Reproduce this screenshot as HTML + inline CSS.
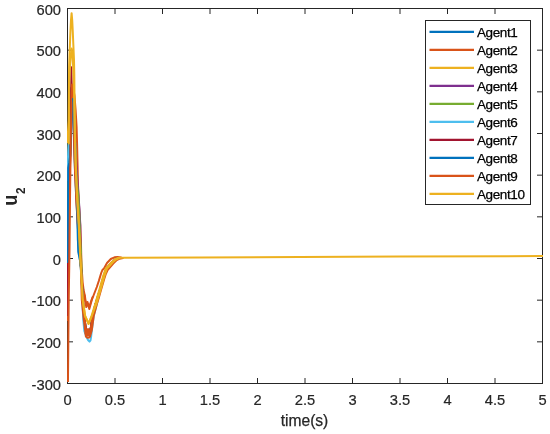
<!DOCTYPE html>
<html><head><meta charset="utf-8"><title>u2 plot</title>
<style>html,body{margin:0;padding:0;background:#fff;}svg{display:block;}</style>
</head><body>
<svg width="550" height="434" viewBox="0 0 550 434"><rect x="67.5" y="8.5" width="475" height="375" fill="#fff" stroke="none"/>
<path d="M67.50,383 v-5 M67.50,9 v5 M115.00,383 v-5 M115.00,9 v5 M162.50,383 v-5 M162.50,9 v5 M210.00,383 v-5 M210.00,9 v5 M257.50,383 v-5 M257.50,9 v5 M305.00,383 v-5 M305.00,9 v5 M352.50,383 v-5 M352.50,9 v5 M400.00,383 v-5 M400.00,9 v5 M447.50,383 v-5 M447.50,9 v5 M495.00,383 v-5 M495.00,9 v5 M542.50,383 v-5 M542.50,9 v5 M68,8.50 h5 M542,8.50 h-5 M68,50.17 h5 M542,50.17 h-5 M68,91.83 h5 M542,91.83 h-5 M68,133.50 h5 M542,133.50 h-5 M68,175.17 h5 M542,175.17 h-5 M68,216.83 h5 M542,216.83 h-5 M68,258.50 h5 M542,258.50 h-5 M68,300.17 h5 M542,300.17 h-5 M68,341.83 h5 M542,341.83 h-5 M68,383.50 h5 M542,383.50 h-5" stroke="#262626" stroke-width="1" fill="none"/>
<rect x="67.5" y="8.5" width="475" height="375" fill="none" stroke="#262626" stroke-width="1"/>
<clipPath id="c"><rect x="67" y="8" width="476" height="374"/></clipPath><g clip-path="url(#c)">
<polyline points="67.50,320.00 68.50,250.00 69.80,170.00 70.50,150.00 70.90,140.00 71.50,128.00 71.90,118.00 72.20,105.00 72.60,92.00 73.20,88.00 74.50,96.00 75.60,110.00 76.60,127.00 77.10,145.00 77.50,162.00 78.00,185.00 79.00,205.00 80.20,225.00 80.90,240.00 81.30,258.00 81.80,270.00 82.60,282.00 83.60,290.00 84.90,296.00 86.30,307.00 87.50,302.00 89.30,309.00 91.80,300.00 93.90,294.50 96.80,287.00 98.80,281.00 101.20,273.00 102.40,270.00 104.00,268.50 107.00,263.00 110.80,259.00 114.50,257.30 117.50,256.90 121.00,257.60" fill="none" stroke="#D95319" stroke-width="2" stroke-linejoin="round" stroke-linecap="round"/>
<polyline points="84.40,295.00 85.80,305.00 87.50,303.80 89.20,307.00 91.00,301.50 92.60,297.00" fill="none" stroke="#D95319" stroke-width="2" stroke-linejoin="round" stroke-linecap="round"/>
<polyline points="67.50,230.00 68.50,160.00 70.00,110.00 71.50,88.00 73.50,110.00 75.50,150.00 77.50,182.00 79.40,208.00 80.30,225.00 80.40,240.00 80.30,255.00 81.20,270.00 82.00,285.00 82.80,300.00 84.30,316.00 85.50,327.00 86.50,333.50 88.00,334.00 89.50,333.50 90.80,328.00 92.60,316.00 95.30,305.00 97.60,297.50 100.70,287.50 103.70,276.50 104.70,273.50 106.40,268.50 108.90,266.00 112.00,262.50 115.40,259.50 118.70,258.00" fill="none" stroke="#7E2F8E" stroke-width="2" stroke-linejoin="round" stroke-linecap="round"/>
<polyline points="67.50,220.00 68.50,150.00 70.00,105.00 71.20,88.00 73.80,110.00 74.80,135.00 75.60,160.00 76.60,180.00 78.20,195.00 79.40,215.00 79.90,235.00 80.80,250.00 81.30,262.00 81.60,270.00 82.00,285.00 82.80,300.00 84.30,316.00 85.50,327.00 86.50,333.50 88.00,334.00 89.50,333.50 90.80,328.00 92.60,316.00 95.30,305.00 97.60,297.50 100.70,287.50 103.70,276.50 104.70,273.50 106.40,268.50 108.90,266.00 112.00,262.50 115.40,259.50 118.70,258.00" fill="none" stroke="#77AC30" stroke-width="2" stroke-linejoin="round" stroke-linecap="round"/>
<polyline points="80.30,262.00 81.20,270.00 82.00,285.00 82.80,300.00 84.30,316.00 85.50,327.00 86.50,333.50 88.00,334.00 89.50,333.50 90.80,328.00 92.60,316.00 95.30,305.00 97.60,297.50 100.70,287.50 103.70,276.50 104.70,273.50 106.40,268.50 108.90,266.00 112.00,262.50 115.40,259.50 118.70,258.00" fill="none" stroke="#0072BD" stroke-width="2" stroke-linejoin="round" stroke-linecap="round"/>
<polyline points="67.50,180.00 67.80,162.00 68.30,150.00 68.80,142.00 69.80,125.00 71.20,108.00 72.20,104.00 73.00,112.00 73.60,130.00 74.50,160.00 75.60,185.00 76.70,205.00 77.60,225.00 77.90,240.00 78.60,250.00 80.30,262.00 81.20,275.00 82.00,290.00 82.50,305.00 83.30,320.00 84.30,331.00 86.50,337.00 88.20,340.30 89.50,341.60 90.50,340.30 91.20,336.00 91.80,331.00 93.70,316.00 96.60,305.00 100.60,287.50 103.60,276.50 104.60,273.50 106.30,268.50 108.80,266.00 111.90,262.50 115.30,259.50 118.60,258.00" fill="none" stroke="#4DBEEE" stroke-width="2" stroke-linejoin="round" stroke-linecap="round"/>
<polyline points="67.50,315.00 67.80,290.00 67.95,262.00 68.40,230.00 69.20,200.00 70.20,160.00 70.60,140.00 70.90,115.00 71.10,90.00 71.25,75.00 71.30,67.30 71.45,75.00 71.70,84.00 72.40,92.00 73.20,110.00 74.20,140.00 75.20,170.00 76.50,200.00 77.90,228.00 79.00,245.00 80.30,255.00 81.20,270.00 82.00,285.00 82.80,300.00 84.30,316.00 85.50,327.00 86.50,333.50 88.00,334.00 89.50,333.50 90.80,328.00 92.60,316.00 95.30,305.00 97.60,297.50 100.70,287.50 103.70,276.50 104.70,273.50 106.40,268.50 108.90,266.00 112.00,262.50 115.40,259.50 118.70,258.00" fill="none" stroke="#A2142F" stroke-width="2" stroke-linejoin="round" stroke-linecap="round"/>
<polyline points="67.50,262.00 67.90,225.00 68.10,190.00 68.20,168.00 69.20,163.00 70.30,155.00 70.80,140.00 71.30,125.00 72.00,112.00 72.60,103.00 73.00,99.00" fill="none" stroke="#0072BD" stroke-width="2" stroke-linejoin="round" stroke-linecap="round"/>
<polyline points="67.50,430.00 67.95,383.00 68.70,300.00 69.50,250.00 70.00,200.00 70.60,150.00 71.20,115.00 71.60,95.00 72.10,84.50 72.80,90.00 73.60,100.00 73.90,115.00 74.20,135.00 74.60,160.00 75.20,175.00 76.10,195.00 77.00,212.00 78.50,232.00 79.60,250.00 80.40,262.00 81.10,272.00 81.40,285.00 81.80,300.00 83.40,316.00 84.70,327.00 85.90,336.50 87.50,337.80 89.00,337.50 90.00,336.50 91.80,330.00 93.70,316.00 96.60,305.00 98.60,298.50 101.00,290.00 103.90,280.00 105.80,274.00 107.60,270.00 110.20,267.00 113.20,263.50 116.30,260.50 119.50,258.70 123.00,258.00" fill="none" stroke="#D95319" stroke-width="2" stroke-linejoin="round" stroke-linecap="round"/>
<polyline points="82.30,300.00 84.30,316.00 85.60,327.00 86.50,333.00 88.00,329.00 89.50,333.00 90.80,328.00 92.60,316.00 95.30,305.00 97.50,298.00" fill="none" stroke="#D95319" stroke-width="2" stroke-linejoin="round" stroke-linecap="round"/>
<polyline points="85.60,333.00 86.60,335.30 88.00,335.60 89.40,335.30 90.30,333.00 89.20,331.60 88.00,332.40 86.80,331.60 86.40,333.60 88.00,334.00 89.60,333.60" fill="none" stroke="#D95319" stroke-width="2" stroke-linejoin="round" stroke-linecap="round"/>
<polyline points="73.00,99.00 73.50,103.00 73.90,110.00 74.20,120.00 74.70,132.00 75.20,145.00 75.70,160.00 76.30,180.00 77.10,200.00 77.60,220.00 77.90,240.00 78.30,252.00 80.30,262.00 80.60,266.00" fill="none" stroke="#0072BD" stroke-width="2" stroke-linejoin="round" stroke-linecap="round"/>
<polyline points="68.80,143.50 68.90,135.00 69.00,120.00 69.10,90.00 69.80,70.00 70.80,55.00 71.60,48.50 72.50,55.00 73.30,70.00 73.80,85.00 74.20,100.00 74.50,120.00 74.90,140.00 75.60,165.00 76.20,180.00 76.90,195.00 77.90,212.00 78.70,225.00 79.40,240.00 80.10,255.00 81.00,270.00 81.80,285.00 82.60,300.00 85.00,316.00 88.60,323.50 91.80,316.00 96.80,303.00 98.50,297.00 101.30,287.50 104.30,276.50 105.30,273.50 107.00,268.50 109.50,266.00 112.60,262.50 116.00,259.50 119.30,258.00" fill="none" stroke="#EDB120" stroke-width="2" stroke-linejoin="round" stroke-linecap="round"/>
<polyline points="67.50,142.00 68.60,120.00 68.90,90.00 69.10,67.00 69.70,50.00 70.45,31.00 71.00,20.00 71.60,13.20 72.20,20.00 72.75,31.00 73.35,45.00 74.00,60.00 74.30,75.00 74.50,95.00 74.70,115.00 75.00,135.00 75.70,160.00 76.50,180.00 77.20,195.00 78.20,212.00 79.00,225.00 79.70,240.00 80.30,255.00 81.20,270.00 82.00,285.00 82.80,300.00 85.20,316.00 88.60,324.00 91.50,316.00 95.50,303.00 97.20,297.00 100.00,287.50 103.00,276.50 104.00,273.50 105.70,268.50 108.20,266.00 111.30,262.50 114.70,259.50 118.00,258.00 120.00,257.80 125.00,257.70 200.00,257.50 300.00,257.00 400.00,256.60 542.50,256.00" fill="none" stroke="#EDB120" stroke-width="2" stroke-linejoin="round" stroke-linecap="round"/>
</g>
<g font-family="Liberation Sans, Arial, sans-serif" font-size="14.7" fill="#262626" stroke="#262626" stroke-width="0.2"><text x="67.50" y="405" text-anchor="middle">0</text><text x="115.00" y="405" text-anchor="middle">0.5</text><text x="162.50" y="405" text-anchor="middle">1</text><text x="210.00" y="405" text-anchor="middle">1.5</text><text x="257.50" y="405" text-anchor="middle">2</text><text x="305.00" y="405" text-anchor="middle">2.5</text><text x="352.50" y="405" text-anchor="middle">3</text><text x="400.00" y="405" text-anchor="middle">3.5</text><text x="447.50" y="405" text-anchor="middle">4</text><text x="495.00" y="405" text-anchor="middle">4.5</text><text x="542.50" y="405" text-anchor="middle">5</text><text x="61" y="14.80" text-anchor="end">600</text><text x="61" y="56.47" text-anchor="end">500</text><text x="61" y="98.13" text-anchor="end">400</text><text x="61" y="139.80" text-anchor="end">300</text><text x="61" y="181.47" text-anchor="end">200</text><text x="61" y="223.13" text-anchor="end">100</text><text x="61" y="264.80" text-anchor="end">0</text><text x="61" y="306.47" text-anchor="end">-100</text><text x="61" y="348.13" text-anchor="end">-200</text><text x="61" y="389.80" text-anchor="end">-300</text></g>
<text x="304.5" y="426" text-anchor="middle" font-family="Liberation Sans, Arial, sans-serif" font-size="15.6" fill="#262626" stroke="#262626" stroke-width="0.25">time(s)</text>
<text transform="translate(17,196.6) rotate(-90) scale(0.91,1)" text-anchor="middle" font-family="Liberation Sans, Arial, sans-serif" font-size="20" font-weight="bold" fill="#262626">u<tspan font-size="13" dx="0.5" dy="8">2</tspan></text>
<rect x="425.5" y="20.5" width="105" height="184" fill="#fff" stroke="#262626" stroke-width="1"/>
<line x1="429.5" y1="31.8" x2="474" y2="31.8" stroke="#0072BD" stroke-width="2.3"/>
<text x="477" y="36.9" font-family="Liberation Sans, Arial, sans-serif" font-size="13.5" letter-spacing="-0.4" fill="#000" stroke="#000" stroke-width="0.25">Agent1</text>
<line x1="429.5" y1="49.8" x2="474" y2="49.8" stroke="#D95319" stroke-width="2.3"/>
<text x="477" y="54.9" font-family="Liberation Sans, Arial, sans-serif" font-size="13.5" letter-spacing="-0.4" fill="#000" stroke="#000" stroke-width="0.25">Agent2</text>
<line x1="429.5" y1="67.8" x2="474" y2="67.8" stroke="#EDB120" stroke-width="2.3"/>
<text x="477" y="72.9" font-family="Liberation Sans, Arial, sans-serif" font-size="13.5" letter-spacing="-0.4" fill="#000" stroke="#000" stroke-width="0.25">Agent3</text>
<line x1="429.5" y1="85.8" x2="474" y2="85.8" stroke="#7E2F8E" stroke-width="2.3"/>
<text x="477" y="90.9" font-family="Liberation Sans, Arial, sans-serif" font-size="13.5" letter-spacing="-0.4" fill="#000" stroke="#000" stroke-width="0.25">Agent4</text>
<line x1="429.5" y1="103.8" x2="474" y2="103.8" stroke="#77AC30" stroke-width="2.3"/>
<text x="477" y="108.9" font-family="Liberation Sans, Arial, sans-serif" font-size="13.5" letter-spacing="-0.4" fill="#000" stroke="#000" stroke-width="0.25">Agent5</text>
<line x1="429.5" y1="121.8" x2="474" y2="121.8" stroke="#4DBEEE" stroke-width="2.3"/>
<text x="477" y="126.9" font-family="Liberation Sans, Arial, sans-serif" font-size="13.5" letter-spacing="-0.4" fill="#000" stroke="#000" stroke-width="0.25">Agent6</text>
<line x1="429.5" y1="139.8" x2="474" y2="139.8" stroke="#A2142F" stroke-width="2.3"/>
<text x="477" y="144.9" font-family="Liberation Sans, Arial, sans-serif" font-size="13.5" letter-spacing="-0.4" fill="#000" stroke="#000" stroke-width="0.25">Agent7</text>
<line x1="429.5" y1="157.8" x2="474" y2="157.8" stroke="#0072BD" stroke-width="2.3"/>
<text x="477" y="162.9" font-family="Liberation Sans, Arial, sans-serif" font-size="13.5" letter-spacing="-0.4" fill="#000" stroke="#000" stroke-width="0.25">Agent8</text>
<line x1="429.5" y1="175.8" x2="474" y2="175.8" stroke="#D95319" stroke-width="2.3"/>
<text x="477" y="180.9" font-family="Liberation Sans, Arial, sans-serif" font-size="13.5" letter-spacing="-0.4" fill="#000" stroke="#000" stroke-width="0.25">Agent9</text>
<line x1="429.5" y1="193.8" x2="474" y2="193.8" stroke="#EDB120" stroke-width="2.3"/>
<text x="477" y="198.9" font-family="Liberation Sans, Arial, sans-serif" font-size="13.5" letter-spacing="-0.4" fill="#000" stroke="#000" stroke-width="0.25">Agent10</text></svg>
</body></html>
